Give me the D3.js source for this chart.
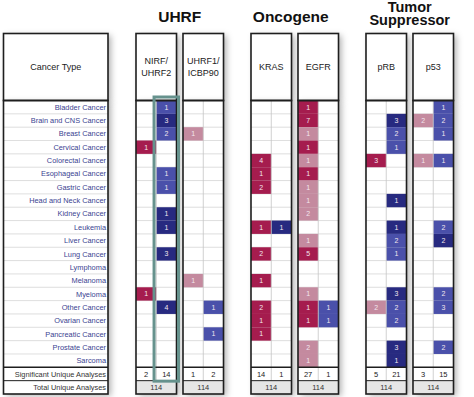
<!DOCTYPE html>
<html>
<head>
<meta charset="utf-8">
<script src="https://cdn.jsdelivr.net/npm/d3@7"></script>
<style>
body { margin: 0; background: #fff; }
svg { display: block; font-family: "Liberation Sans", Arial, Helvetica, sans-serif; }
</style>
</head>
<body>
<svg width="474" height="397"></svg>
<script>

var cancers = ["Bladder Cancer", "Brain and CNS Cancer", "Breast Cancer", "Cervical Cancer",
  "Colorectal Cancer", "Esophageal Cancer", "Gastric Cancer", "Head and Neck Cancer",
  "Kidney Cancer", "Leukemia", "Liver Cancer", "Lung Cancer", "Lymphoma", "Melanoma",
  "Myeloma", "Other Cancer", "Ovarian Cancer", "Pancreatic Cancer", "Prostate Cancer", "Sarcoma"];
var summaryRows = ["Significant Unique Analyses", "Total Unique Analyses"];

var groups = ["UHRF", "Oncogene", "Tumor Suppressor"];
var genes = ["NIRF/UHRF2", "UHRF1/ICBP90", "KRAS", "EGFR", "pRB", "p53"];
var geneGroup = ["UHRF", "UHRF", "Oncogene", "Oncogene", "Tumor Suppressor", "Tumor Suppressor"];

// number of analyses per cancer type (over-expression = up, under-expression = down)
var nirfUp    = [0,0,0,1,0,0,0,0,0,0,0,0,0,0,1,0,0,0,0,0];
var nirfDown  = [1,3,2,0,0,1,1,0,1,1,0,3,0,0,0,4,0,0,0,0];
var uhrf1Up   = [0,0,1,0,0,0,0,0,0,0,0,0,0,1,0,0,0,0,0,0];
var uhrf1Down = [0,0,0,0,0,0,0,0,0,0,0,0,0,0,0,1,0,1,0,0];
var krasUp    = [0,0,0,0,4,1,2,0,0,1,0,2,0,1,0,2,1,1,0,0];
var krasDown  = [0,0,0,0,0,0,0,0,0,1,0,0,0,0,0,0,0,0,0,0];
var egfrUp    = [1,7,1,1,1,1,1,1,2,0,1,5,0,0,1,1,1,0,2,1];
var egfrDown  = [0,0,0,0,0,0,0,0,0,0,0,0,0,0,0,1,1,0,0,0];
var prbUp     = [0,0,0,0,3,0,0,0,0,0,0,0,0,0,0,2,0,0,0,0];
var prbDown   = [0,3,2,1,0,0,0,1,0,1,2,1,0,0,3,2,2,0,3,1];
var p53Up     = [0,2,0,0,1,0,0,0,0,0,0,0,0,0,0,0,0,0,0,0];
var p53Down   = [1,2,1,0,1,0,0,0,0,2,2,0,0,0,2,3,0,0,2,0];

// gene rank shade: 2 = top 1%, 1 = top 10%
var nirfUpRank    = [0,0,0,2,0,0,0,0,0,0,0,0,0,0,2,0,0,0,0,0];
var nirfDownRank  = [1,2,1,0,0,1,1,0,2,2,0,2,0,0,0,2,0,0,0,0];
var uhrf1UpRank   = [0,0,1,0,0,0,0,0,0,0,0,0,0,1,0,0,0,0,0,0];
var uhrf1DownRank = [0,0,0,0,0,0,0,0,0,0,0,0,0,0,0,1,0,1,0,0];
var krasUpRank    = [0,0,0,0,2,2,2,0,0,2,0,2,0,2,0,2,2,2,0,0];
var krasDownRank  = [0,0,0,0,0,0,0,0,0,2,0,0,0,0,0,0,0,0,0,0];
var egfrUpRank    = [2,2,1,2,1,2,1,1,1,0,1,2,0,0,1,2,2,0,1,1];
var egfrDownRank  = [0,0,0,0,0,0,0,0,0,0,0,0,0,0,0,1,1,0,0,0];
var prbUpRank     = [0,0,0,0,2,0,0,0,0,0,0,0,0,0,0,1,0,0,0,0];
var prbDownRank   = [0,2,1,1,0,0,0,2,0,2,1,1,0,0,2,1,1,0,2,2];
var p53UpRank     = [0,1,0,0,1,0,0,0,0,0,0,0,0,0,0,0,0,0,0,0];
var p53DownRank   = [1,1,1,0,1,0,0,0,0,1,2,0,0,0,1,1,0,0,1,0];

var significantUp   = [2, 1, 14, 27, 5, 3];
var significantDown = [14, 2, 1, 1, 21, 15];
var totalAnalyses   = [114, 114, 114, 114, 114, 114];

var upCounts = [nirfUp, uhrf1Up, krasUp, egfrUp, prbUp, p53Up];
var downCounts = [nirfDown, uhrf1Down, krasDown, egfrDown, prbDown, p53Down];
var upRanks = [nirfUpRank, uhrf1UpRank, krasUpRank, egfrUpRank, prbUpRank, p53UpRank];
var downRanks = [nirfDownRank, uhrf1DownRank, krasDownRank, egfrDownRank, prbDownRank, p53DownRank];

var svg = d3.select("svg");

// shadow for the boxes
svg.append("defs").append("filter")
    .attr("id", "shadow").attr("x", "-30%").attr("y", "-10%").attr("width", "160%").attr("height", "120%")
  .append("feDropShadow")
    .attr("dx", 3).attr("dy", 2).attr("stdDeviation", 3)
    .attr("flood-color", "#000").attr("flood-opacity", 0.3);

var headTop = 33.5, headBottom = 100.5;
var rows = cancers.concat(summaryRows);
var y = d3.scaleBand().domain(rows).range([100.5, 394]);

var gx = d3.scaleBand().domain(groups).range([136, 453.5]).paddingInner(0.239);
var bx = d3.scaleBand().domain([0, 1]).range([0, gx.bandwidth()]).paddingInner(0.138);
var boxW = bx.bandwidth();
var half = d3.scaleBand().domain(["up", "down"]).range([0, boxW]);
function boxX(i) { return gx(geneGroup[i]) + bx(i % 2); }

var labelLeft = 3.5, labelRight = 108;

var color = d3.scaleOrdinal()
    .domain(["up1", "up2", "down1", "down2"])
    .range(["#c48a9f", "#a51c4e", "#4a50aa", "#272a80"]);

// group titles
groups.forEach(function (g) {
  var cx = gx(g) + gx.bandwidth() / 2;
  var lines = g == "Tumor Suppressor" ? ["Tumor", "Suppressor"] : [g];
  var t = svg.append("text")
      .attr("text-anchor", "middle")
      .style("font-size", lines.length > 1 ? "14.5px" : "15.5px")
      .style("font-weight", "bold").style("fill", "#111");
  lines.forEach(function (l, k) {
    t.append("tspan").attr("x", g == "Oncogene" ? cx - 4 : cx)
      .attr("y", lines.length > 1 ? 12 + k * 12.5 : 21.5).text(l);
  });
});

// white boxes with shadow
var boxes = [{x: labelLeft, w: labelRight - labelLeft}].concat(genes.map(function (d, i) {
  return {x: boxX(i), w: boxW};
}));
boxes.forEach(function (b) {
  svg.append("rect").attr("x", b.x).attr("y", headTop).attr("width", b.w)
    .attr("height", headBottom - headTop).attr("fill", "#fff").attr("filter", "url(#shadow)");
  svg.append("rect").attr("x", b.x).attr("y", y.range()[0]).attr("width", b.w)
    .attr("height", y.range()[1] - y.range()[0]).attr("fill", "#fff").attr("filter", "url(#shadow)");
});

// light row lines
boxes.forEach(function (b) {
  svg.append("g").selectAll("line").data(cancers.slice(1)).enter().append("line")
    .attr("x1", b.x).attr("x2", b.x + b.w)
    .attr("y1", function (d) { return y(d); }).attr("y2", function (d) { return y(d); })
    .attr("stroke", "#d6d6d6").attr("stroke-width", 0.8);
});

// cells
genes.forEach(function (gene, i) {
  var x0 = boxX(i);
  var cells = [];
  cancers.forEach(function (c, r) {
    if (upCounts[i][r] > 0) cells.push({row: c, dir: "up", n: upCounts[i][r], rank: upRanks[i][r]});
    if (downCounts[i][r] > 0) cells.push({row: c, dir: "down", n: downCounts[i][r], rank: downRanks[i][r]});
  });

  // total row background
  svg.append("rect").attr("x", x0).attr("y", y(summaryRows[1]))
    .attr("width", boxW).attr("height", y.bandwidth()).attr("fill", "#e6e6e6");

  var g = svg.append("g");
  g.selectAll("rect").data(cells).enter().append("rect")
    .attr("x", function (d) { return x0 + half(d.dir); })
    .attr("y", function (d) { return y(d.row); })
    .attr("width", half.bandwidth())
    .attr("height", y.bandwidth())
    .attr("fill", function (d) { return color(d.dir + d.rank); });

  // divider between up and down columns
  svg.append("line")
    .attr("x1", x0 + half("down")).attr("x2", x0 + half("down"))
    .attr("y1", y.range()[0]).attr("y2", y(summaryRows[1]))
    .attr("stroke", "#c4c4c4").attr("stroke-width", 0.8);

  g.selectAll("text").data(cells).enter().append("text")
    .attr("x", function (d) { return x0 + half(d.dir) + half.bandwidth() / 2; })
    .attr("y", function (d) { return y(d.row) + y.bandwidth() / 2; })
    .attr("dy", "0.35em").attr("text-anchor", "middle")
    .style("font-size", "7px").style("fill", "#f3e6ee")
    .text(function (d) { return d.n; });

  // significant / total numbers
  [["up", significantUp[i]], ["down", significantDown[i]]].forEach(function (s) {
    svg.append("text")
      .attr("x", x0 + half(s[0]) + half.bandwidth() / 2)
      .attr("y", y(summaryRows[0]) + y.bandwidth() / 2)
      .attr("dy", "0.35em").attr("text-anchor", "middle")
      .style("font-size", "7.5px").style("fill", "#222").text(s[1]);
  });
  svg.append("text")
    .attr("x", x0 + boxW / 2)
    .attr("y", y(summaryRows[1]) + y.bandwidth() / 2)
    .attr("dy", "0.35em").attr("text-anchor", "middle")
    .style("font-size", "7.5px").style("fill", "#333").text(totalAnalyses[i]);

  // header label
  var parts = gene.split("/");
  var ht = svg.append("text").attr("text-anchor", "middle")
    .style("font-size", "9px").style("fill", "#222");
  parts.forEach(function (p, k) {
    ht.append("tspan").attr("x", x0 + boxW / 2)
      .attr("y", (headTop + headBottom) / 2 + 3 + (k - (parts.length - 1) / 2) * 12.5)
      .text(k < parts.length - 1 ? p + "/" : p);
  });
});

// row labels
svg.append("g").selectAll("text").data(rows).enter().append("text")
  .attr("x", labelRight - 2)
  .attr("y", function (d) { return y(d) + y.bandwidth() / 2; })
  .attr("dy", "0.35em").attr("text-anchor", "end")
  .style("font-size", "7.4px")
  .style("fill", function (d) { return cancers.indexOf(d) >= 0 ? "#3a4391" : "#333"; })
  .text(function (d) { return d; });

svg.append("text").attr("x", (labelLeft + labelRight) / 2).attr("y", (headTop + headBottom) / 2 + 3)
  .attr("text-anchor", "middle").style("font-size", "9px").style("fill", "#222").text("Cancer Type");

// dark borders
boxes.forEach(function (b) {
  svg.append("rect").attr("x", b.x).attr("y", headTop).attr("width", b.w)
    .attr("height", headBottom - headTop).attr("fill", "none").attr("stroke", "#1e1e1e").attr("stroke-width", 1.6);
  svg.append("rect").attr("x", b.x).attr("y", y.range()[0]).attr("width", b.w)
    .attr("height", y.range()[1] - y.range()[0]).attr("fill", "none").attr("stroke", "#1e1e1e").attr("stroke-width", 1.6);
  svg.append("line").attr("x1", b.x).attr("x2", b.x + b.w)
    .attr("y1", y(summaryRows[0])).attr("y2", y(summaryRows[0]))
    .attr("stroke", "#1e1e1e").attr("stroke-width", 1.6);
  svg.append("line").attr("x1", b.x).attr("x2", b.x + b.w)
    .attr("y1", y(summaryRows[1])).attr("y2", y(summaryRows[1]))
    .attr("stroke", "#1e1e1e").attr("stroke-width", 1);
});

// highlight around NIRF/UHRF2 under-expression column
svg.append("rect")
  .attr("x", boxX(0) + half("down") - 2.2)
  .attr("y", headBottom - 3.5)
  .attr("width", half.bandwidth() + 4.2)
  .attr("height", y(summaryRows[1]) + 0.5 - (headBottom - 3.5))
  .attr("fill", "none").attr("stroke", "#66928d").attr("stroke-width", 3);

</script>
</body>
</html>
